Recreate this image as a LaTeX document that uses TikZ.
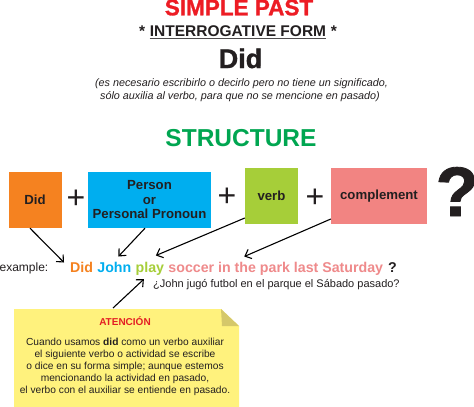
\documentclass[tikz,border=0pt]{standalone}
\usepackage{fontspec}
\setmainfont{Liberation Sans}
\newfontfamily\heavyfont[FakeBold=1.2]{Liberation Sans Bold}
\usetikzlibrary{arrows.meta,calc}
\definecolor{ttlred}{HTML}{ED1C24}
\definecolor{ttlgreen}{HTML}{00A651}
\definecolor{cOrange}{HTML}{F58220}
\definecolor{cBlue}{HTML}{00AEEF}
\definecolor{cGreen}{HTML}{A6CE39}
\definecolor{cPink}{HTML}{F28482}
\definecolor{cPinkTxt}{HTML}{EF8A8B}
\definecolor{boxtext}{HTML}{231F20}
\definecolor{noteYellow}{HTML}{FFF27D}
\definecolor{noteFold}{HTML}{D5C86A}
\definecolor{noteRed}{HTML}{E31E24}
\newcommand\myfs[2]{\fontsize{#1}{#2}\selectfont}
\begin{document}
\begin{tikzpicture}[x=1pt,y=-1pt,
  box/.style={minimum height=56pt, inner sep=2pt, align=center,
    font=\bfseries\myfs{13.2}{14.5}, text=boxtext},
  plus/.style={inner sep=0pt, font=\myfs{32}{32}, text=boxtext},
  word/.style={inner sep=0pt, anchor=base west, font=\bfseries\myfs{14.2}{14.2}},
  conn/.style={draw=black, line width=1.1pt, -{Straight Barb[length=5.5pt,width=10pt]}},
]
\useasboundingbox (0,0) rectangle (474,407);
\fill[white] (0,0) rectangle (474,407);

% titles
\node[inner sep=0pt, anchor=base, text=ttlred, font=\heavyfont\myfs{22.5}{22.5}] (title) at (239,15.3) {SIMPLE PAST};
\node[inner sep=0pt, anchor=base, text=boxtext, font=\bfseries\myfs{15.5}{15.5}] (intform) at (238,36) {INTERROGATIVE FORM};
\node[inner sep=0pt, anchor=base east, text=boxtext, font=\bfseries\myfs{15.5}{15.5}] (starl) at ([xshift=-4.3pt]intform.base west) {*};
\node[inner sep=0pt, anchor=base west, text=boxtext, font=\bfseries\myfs{15.5}{15.5}] (starr) at ([xshift=4.3pt]intform.base east) {*};
\draw[line width=0.9pt, color=boxtext!80] ($(intform.base west)+(0,2)$) -- ($(intform.base east)+(0,2)$);
\node[inner sep=0pt, anchor=base, text=boxtext, font=\heavyfont\myfs{27}{27}] (didbig) at (240.5,68) {Did};
\node[inner sep=0pt, anchor=base, text=boxtext, font=\itshape\myfs{10.8}{10.8}] (paren1) at (241.5,86) {(es necesario escribirlo o decirlo pero no tiene un significado,};
\node[inner sep=0pt, anchor=base, text=boxtext, font=\itshape\myfs{10.8}{10.8}] (paren2) at (240,99) {sólo auxilia al verbo, para que no se mencione en pasado)};
\node[inner sep=0pt, anchor=base, text=ttlgreen, font=\bfseries\myfs{24.5}{24.5}] (structure) at (241,146) {STRUCTURE};

% structure boxes
\node[box, fill=cOrange, minimum width=53pt] (did) at (35,200) {Did};
\node[box, fill=cBlue, minimum width=123pt] (person) at (149.5,200) {Person\\or\\Personal Pronoun};
\node[box, fill=cGreen, minimum width=53pt] (verb) at (271.5,196) {verb};
\node[box, fill=cPink, minimum width=96pt] (comp) at (379,196) {complement};
\node[plus] (p1) at (76,199) {+};
\node[plus] (p2) at (227,197) {+};
\node[plus] (p3) at (315,198) {+};
\node[inner sep=0pt, anchor=base, text=boxtext, font=\heavyfont\myfs{70}{70}] (qmark) at (457,216) {?};

% example
\node[inner sep=0pt, anchor=base east, text=boxtext, font=\myfs{12}{12}] (exlabel) at (48.5,271.5) {example:};
\node[word, text=cOrange] (exDid) at (70,272) {Did};
\node[word, text=cBlue] (exJohn) at ([xshift=3.95pt]exDid.base east) {John};
\node[word, text=cGreen] (exPlay) at ([xshift=3.95pt]exJohn.base east) {play};
\node[word, text=cPinkTxt] (exRest) at ([xshift=3.95pt]exPlay.base east) {soccer in the park last Saturday};
\node[word, text=boxtext] (exQ) at ([xshift=4.5pt]exRest.base east) {?};
\node[inner sep=0pt, anchor=base west, text=boxtext, font=\myfs{11}{11}] (spanish) at (153,287.4) {¿John jugó futbol en el parque el Sábado pasado?};

% note
\fill[noteYellow] (14,309) -- (221,309) -- (239,326) -- (239,407) -- (14,407) -- cycle;
\fill[noteFold] (221,309) -- (239,326) -- (222,326) -- cycle;
\node[inner sep=0pt, anchor=base, text=noteRed, font=\bfseries\myfs{10}{10}] (atencion) at (125,325.5) {ATENCIÓN};
\node[inner sep=0pt, align=center, anchor=north, text=boxtext, font=\myfs{10.2}{12.1}] (notetext) at (125,338) {Cuando usamos \textbf{did} como un verbo auxiliar\\el siguiente verbo o actividad se escribe\\o dice en su forma simple; aunque estemos\\mencionando la actividad en pasado,\\el verbo con el auxiliar se entiende en pasado.};
\coordinate (notetop) at (113,308);

% connectors
\draw[conn] ([xshift=-5pt]did.south) -- ($(exDid.north west)+(-6,1)$);
\draw[conn] ([xshift=-4.5pt]person.south) -- ($(exJohn.north)+(4,-5)$);
\draw[conn] ([yshift=-22pt]verb.west) -- ($(exPlay.north)+(6,-6)$);
\draw[conn] ([yshift=-23pt]comp.west) -- ($(exRest.north west)+(76,-5)$);
\draw[conn] (notetop) -- ($(exPlay.south)+(-6,4)$);
\end{tikzpicture}
\end{document}
